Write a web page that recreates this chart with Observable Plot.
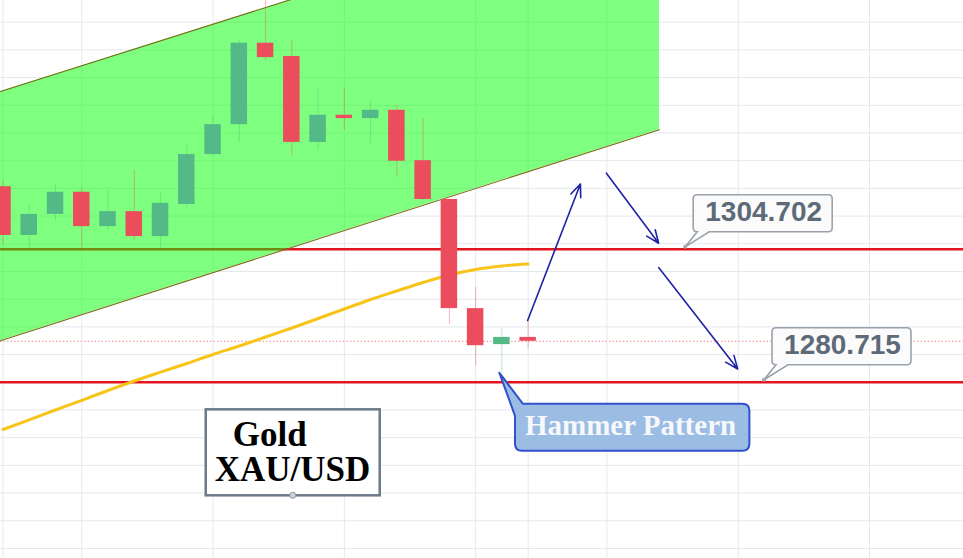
<!DOCTYPE html>
<html>
<head>
<meta charset="utf-8">
<script src="https://cdn.jsdelivr.net/npm/d3@7"></script>
<script src="https://cdn.jsdelivr.net/npm/@observablehq/plot@0.6"></script>
<style>
  html, body { margin: 0; padding: 0; background: #fff; }
  #chart { width: 963px; height: 558px; overflow: hidden; }
</style>
</head>
<body>
<div id="chart"></div>
<script>
// ---- Data ----
const candleIndex = [1, 2, 3, 4, 5, 6, 7, 8, 9, 10, 11, 12, 13, 14, 15, 16, 17, 18, 19, 20, 21];
const opens  = [1316.0, 1307.2, 1311.0, 1315.0, 1308.8, 1311.5, 1307.0, 1312.8, 1321.8, 1327.2, 1341.9, 1339.5, 1324.0, 1328.9, 1328.3, 1329.8, 1320.7, 1313.7, 1294.0, 1287.5, 1288.8];
const highs  = [1317.1, 1312.6, 1316.2, 1315.7, 1315.3, 1318.9, 1314.8, 1323.4, 1328.9, 1342.4, 1350.5, 1342.4, 1333.7, 1333.7, 1331.6, 1330.7, 1328.3, 1313.7, 1297.8, 1290.4, 1291.9];
const lows   = [1305.4, 1304.5, 1309.9, 1304.5, 1308.1, 1306.3, 1304.5, 1312.2, 1321.5, 1324.0, 1338.8, 1321.6, 1322.5, 1326.1, 1323.8, 1317.8, 1313.5, 1291.1, 1283.7, 1282.5, 1286.8];
const closes = [1307.2, 1311.0, 1315.0, 1308.8, 1311.5, 1307.0, 1313.0, 1321.8, 1327.2, 1341.9, 1339.3, 1324.0, 1328.9, 1328.3, 1329.8, 1320.6, 1313.7, 1294.0, 1287.3, 1288.8, 1288.1];
const maValues = [1272.18, 1273.93, 1275.70, 1277.45, 1279.22, 1280.93, 1282.52, 1284.09, 1285.72, 1287.25, 1288.87, 1290.50, 1292.21, 1293.93, 1295.64, 1297.18, 1298.71, 1300.07, 1301.06, 1301.69, 1302.05];

const levelPrices = [1304.702, 1280.715];
const levelLabels = ["1304.702", "1280.715"];
const levelLabelAt = [27, 30];           // candle slot where each label's pointer lands
const lastPrice = 1288.1;

const gridPrices = [1345.7, 1340.7, 1335.7, 1330.7, 1325.7, 1320.7, 1315.7, 1310.7, 1305.7, 1300.7, 1295.7, 1290.7, 1285.7, 1280.7, 1275.7, 1270.7, 1265.7, 1260.7, 1255.7, 1250.7];
const gridSlots = [1, 4, 9, 14, 19, 21, 24, 29, 34];

const channelX = [0.905, 26.0];
const channelUpper = [1333.2, 1370.8];
const channelLower = [1288.2, 1326.3];

const arrowX1 = [20.98, 23.98, 25.97];
const arrowY1 = [1291.85, 1318.44, 1301.4];
const arrowX2 = [22.99, 25.97, 28.98];
const arrowY2 = [1316.5, 1305.8, 1283.1];

const hammerSlot = 20;
const hammerLabel = "Hammer Pattern";
const titleLines = ["Gold", "XAU/USD"];
const titleAnchor = { i: 8.74, price: 1275.73 };

// ---- Derived tables ----
const candles = candleIndex.map((i, k) => ({
  i, open: opens[k], high: highs[k], low: lows[k], close: closes[k],
  up: closes[k] >= opens[k]
}));
const ma = candleIndex.map((i, k) => ({ i, v: maValues[k] }));
const channel = channelX.map((x, k) => ({ x, lo: channelLower[k], hi: channelUpper[k] }));
const arrows = arrowX1.map((x, k) => ({ x1: x, y1: arrowY1[k], x2: arrowX2[k], y2: arrowY2[k] }));

const UP = "#53b987", DOWN = "#eb4d5c";
const half = 0.314;

function annotations(index, scales, values, dims) {
  const { x, y } = scales;
  const g = d3.create("svg:g").attr("text-anchor", "start");

  // price callouts
  levelPrices.forEach((p, k) => {
    const tx = x(levelLabelAt[k]), ly = y(p);
    const x0 = tx + 8, x1 = tx + 147, y0 = ly - 54, y1 = ly - 17, r = 4;
    const tipX = tx, tipY = ly - 2;
    const path = `M${x0 + r},${y0} H${x1 - r} Q${x1},${y0} ${x1},${y0 + r} V${y1 - r} Q${x1},${y1} ${x1 - r},${y1} H${x0 + 16} L${tipX},${tipY} L${x0 + 4},${y1} Q${x0},${y1} ${x0},${y1 - r} V${y0 + r} Q${x0},${y0} ${x0 + r},${y0} Z`;
    g.append("path").attr("d", path).attr("fill", "#fbfbfb").attr("stroke", "#9aa2ab").attr("stroke-width", 1.6);
    g.append("circle").attr("cx", tipX).attr("cy", tipY).attr("r", 2).attr("fill", "#a0a6ad");
    g.append("text").attr("x", (x0 + x1) / 2 + 1).attr("y", ly - 28)
      .attr("text-anchor", "middle")
      .attr("font-family", "'Liberation Sans', Arial, sans-serif")
      .attr("font-weight", "bold").attr("font-size", 28)
      .attr("fill", "#5d6a78").text(levelLabels[k]);
  });

  // hammer callout
  {
    const c = candles.find(d => d.i === hammerSlot);
    const tx = x(hammerSlot) - 2, ty = y(c.low) + 1;
    const x0 = tx + 15.6, x1 = tx + 250, y0 = ty + 31, y1 = ty + 78, r = 7;
    const path = `M${x0 + 8},${y0} H${x1 - r} Q${x1},${y0} ${x1},${y0 + r} V${y1 - r} Q${x1},${y1} ${x1 - r},${y1} H${x0 + r} Q${x0},${y1} ${x0},${y1 - r} V${y0 + 12} L${tx},${ty} Z`;
    g.append("path").attr("d", path).attr("fill", "#9bbde4").attr("stroke", "#3350cc").attr("stroke-width", 2).attr("stroke-linejoin", "round");
    g.append("text").attr("x", x0 + 10).attr("y", y0 + 31)
      .attr("text-anchor", "start")
      .attr("font-family", "'Liberation Serif', 'Times New Roman', serif")
      .attr("font-weight", "bold").attr("font-size", 29)
      .attr("fill", "#f6f8fb").text(hammerLabel);
  }

  // title note box
  {
    const x0 = x(titleAnchor.i), y0 = y(titleAnchor.price);
    const w = 174, h = 86;
    g.append("rect").attr("x", x0).attr("y", y0).attr("width", w).attr("height", h)
      .attr("fill", "#ffffff").attr("stroke", "#6c7a89").attr("stroke-width", 2.5);
    g.append("circle").attr("cx", x0 + w / 2).attr("cy", y0 + h).attr("r", 3)
      .attr("fill", "#d0d4d8").attr("stroke", "#8a949e").attr("stroke-width", 1);
    g.append("text").attr("x", x0 + 27).attr("y", y0 + 37)
      .attr("text-anchor", "start")
      .attr("font-family", "'Liberation Serif', 'Times New Roman', serif")
      .attr("font-weight", "bold").attr("font-size", 35).attr("fill", "#000").text(titleLines[0]);
    g.append("text").attr("x", x0 + 9).attr("y", y0 + 72)
      .attr("text-anchor", "start")
      .attr("font-family", "'Liberation Serif', 'Times New Roman', serif")
      .attr("font-weight", "bold").attr("font-size", 35).attr("fill", "#000").text(titleLines[1]);
  }
  return g.node();
}

const chart = Plot.plot({
  width: 963,
  height: 558,
  margin: 0,
  style: { background: "#ffffff", overflow: "hidden" },
  x: { domain: [0.905, 37.58], axis: null },
  y: { domain: [1248.892, 1349.614], axis: null },
  marks: [
    Plot.ruleY(gridPrices, { stroke: "#e4e8ed", strokeWidth: 1 }),
    Plot.ruleX(gridSlots, { stroke: "#e4e8ed", strokeWidth: 1 }),
    Plot.ruleY(levelPrices, { stroke: "#e3151f", strokeWidth: 2.6 }),
    Plot.ruleY([lastPrice], { stroke: "#f08a8a", strokeWidth: 1, strokeDasharray: "1.5,2" }),
    Plot.areaY(channel, { x: "x", y1: "lo", y2: "hi", fill: "#00ff00", fillOpacity: 0.5 }),
    Plot.line(channel, { x: "x", y: "hi", stroke: "#7d6a1c", strokeWidth: 1.1 }),
    Plot.line(channel, { x: "x", y: "lo", stroke: "#7d6a1c", strokeWidth: 1.1 }),
    Plot.line(ma, { x: "i", y: "v", stroke: "#f7c51a", strokeWidth: 3, curve: "monotone-x" }),
    Plot.ruleX(candles, { x: "i", y1: "low", y2: "high", stroke: d => d.up ? UP : DOWN, strokeOpacity: 0.4, strokeWidth: 1 }),
    Plot.rect(candles, { x1: d => d.i - half, x2: d => d.i + half, y1: "open", y2: "close", fill: d => d.up ? UP : DOWN }),
    Plot.arrow(arrows, { x1: "x1", y1: "y1", x2: "x2", y2: "y2", stroke: "#1f22a6", strokeWidth: 1.6, headLength: 13, headAngle: 45 }),
    annotations
  ]
});
document.getElementById("chart").append(chart);
</script>
</body>
</html>
